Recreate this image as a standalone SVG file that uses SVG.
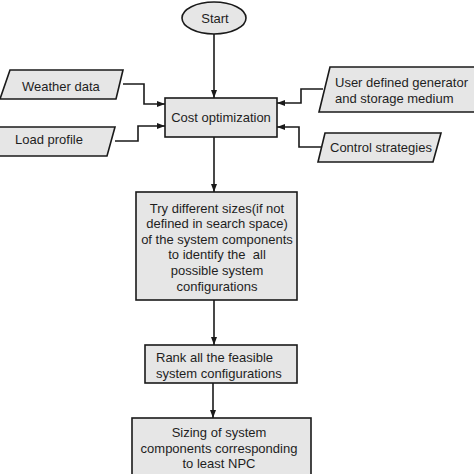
<svg xmlns="http://www.w3.org/2000/svg" width="474" height="474" viewBox="0 0 474 474">
<defs>
<marker id="ah" markerWidth="8" markerHeight="6" refX="8" refY="3" orient="auto" markerUnits="userSpaceOnUse">
<path d="M0,0 L8,3 L0,6 Z" fill="#1a1a1a"/>
</marker>
<style>
.n{fill:#e6e6e6;stroke:#1a1a1a;stroke-width:1.6}
.t{font-family:"Liberation Sans",Arial,sans-serif;font-size:13px;fill:#1e1e1e}
.c{text-anchor:middle}
.e{fill:none;stroke:#1a1a1a;stroke-width:1.6;marker-end:url(#ah)}
</style>
</defs>
<rect width="474" height="474" fill="#ffffff"/>
<g id="connectors">
<path class="e" d="M214,34 V98"/>
<path class="e" d="M123,84 H144 V104 H165"/>
<path class="e" d="M115,141 H138 V126 H165"/>
<path class="e" d="M323,89 H301 V103 H277"/>
<path class="e" d="M321,147 H299 V127 H277"/>
<path class="e" d="M214,137 V192"/>
<path class="e" d="M214,300 V345"/>
<path class="e" d="M213,383 V418"/>
</g>
<g id="start">
<ellipse class="n" cx="214" cy="18" rx="32" ry="16" stroke-width="2"/>
<text class="t c" x="215" y="22.5">Start</text>
</g>
<g id="cost">
<rect class="n" x="165" y="98" width="112" height="39"/>
<text class="t c" x="221" y="121.5">Cost optimization</text>
</g>
<g id="weather">
<polygon class="n" points="10,70 123,70 116,99 0,99"/>
<text class="t" x="22" y="91">Weather data</text>
</g>
<g id="load">
<polygon class="n" points="-10,127 115,127 107,156 -10,156"/>
<text class="t" x="15" y="144">Load profile</text>
</g>
<g id="user">
<polygon class="n" points="330,67 480,67 480,112 319,112"/>
<text class="t" x="335" y="87">User defined generator</text>
<text class="t" x="335" y="103">and storage medium</text>
</g>
<g id="control">
<polygon class="n" points="325,133 441,133 433,162 318,162"/>
<text class="t" x="330" y="152">Control strategies</text>
</g>
<g id="try">
<rect class="n" x="136" y="192" width="161" height="108"/>
<text class="t c" x="217" y="212.5">Try different sizes(if not</text>
<text class="t c" x="217" y="228">defined in search space)</text>
<text class="t c" x="217" y="243.5">of the system components</text>
<text class="t c" x="217" y="259" style="white-space:pre">to identify the  all</text>
<text class="t c" x="217" y="274.5">possible system</text>
<text class="t c" x="217" y="290.5">configurations</text>
</g>
<g id="rank">
<rect class="n" x="145" y="345" width="152" height="38"/>
<text class="t" x="156" y="361.5">Rank all the feasible</text>
<text class="t" x="156" y="377.5">system configurations</text>
</g>
<g id="sizing">
<rect class="n" x="132" y="418" width="179" height="62"/>
<text class="t c" x="219" y="436.5">Sizing of system</text>
<text class="t c" x="219" y="452.5">components corresponding</text>
<text class="t c" x="219" y="467.5">to least NPC</text>
</g>
</svg>
